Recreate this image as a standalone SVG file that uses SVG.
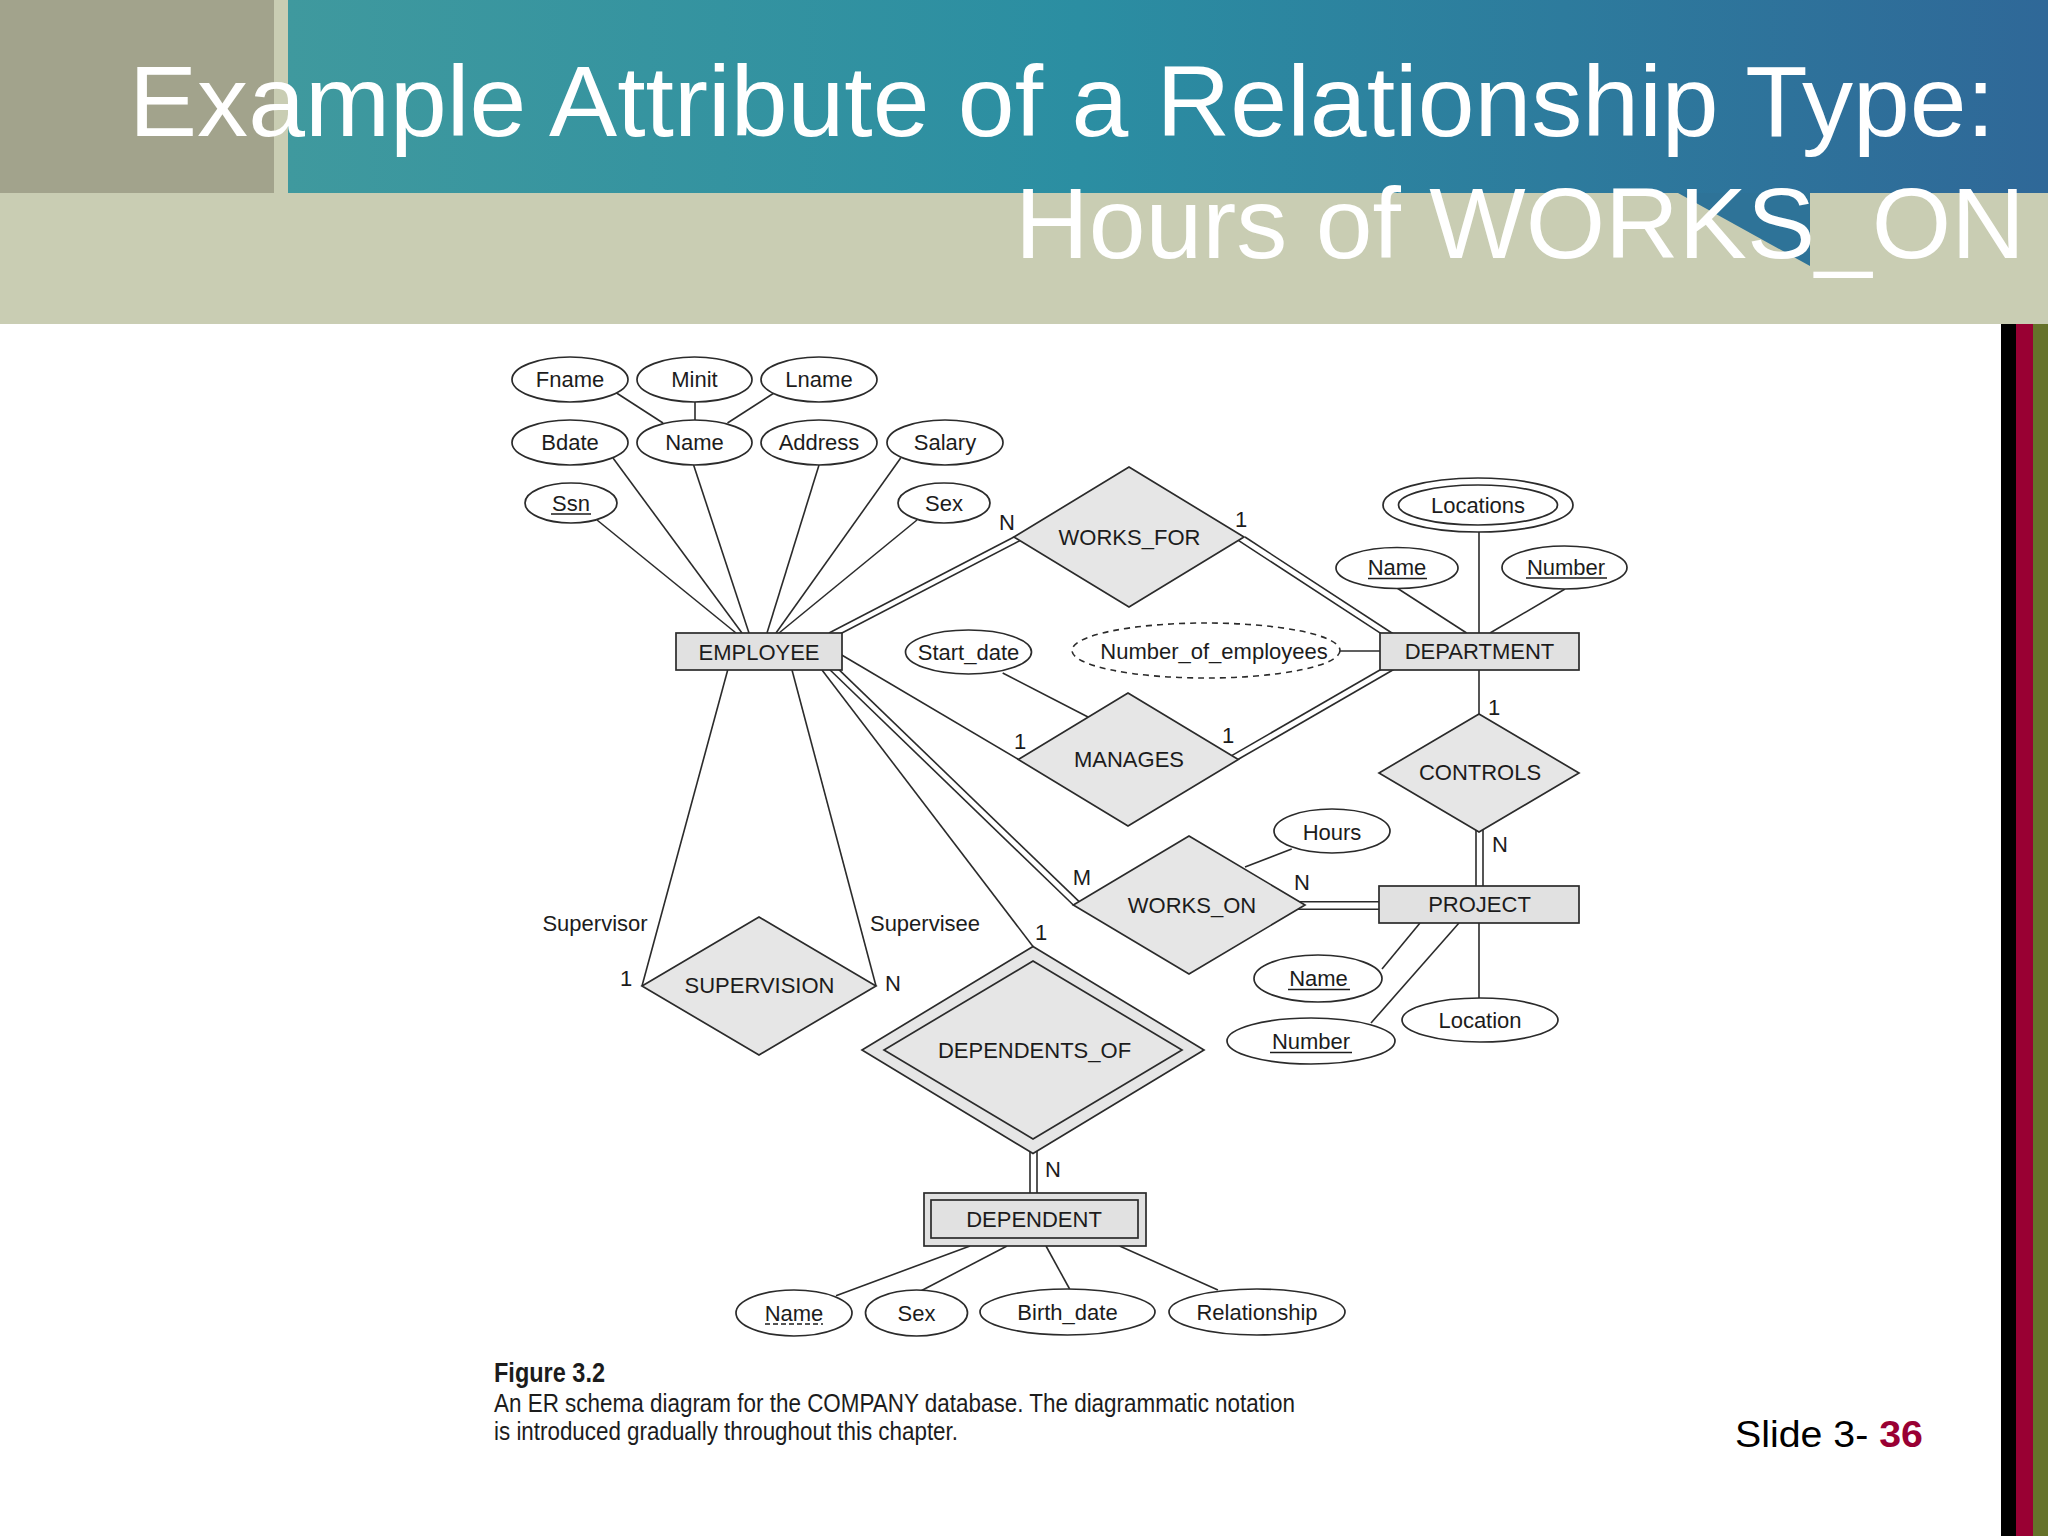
<svg xmlns="http://www.w3.org/2000/svg" width="2048" height="1536" viewBox="0 0 2048 1536">
<defs>
<linearGradient id="teal" x1="0" y1="0" x2="1" y2="0">
<stop offset="0" stop-color="#3f999e"/>
<stop offset="0.45" stop-color="#2b8ea2"/>
<stop offset="1" stop-color="#2f6898"/>
</linearGradient>
<style>
.t{font-family:"Liberation Sans",Arial,sans-serif;fill:#1c1c1c;font-size:22px;text-anchor:middle}
.c{font-family:"Liberation Sans",Arial,sans-serif;fill:#1c1c1c;font-size:22px;text-anchor:middle}
.ent{fill:#e1e1e1;stroke:#2b2b2b;stroke-width:1.7}
.rel{fill:#e6e6e6;stroke:#2b2b2b;stroke-width:1.7}
.att{fill:#ffffff;stroke:#2b2b2b;stroke-width:1.7}
.ln{stroke:#2b2b2b;stroke-width:1.6;fill:none}
.ul{stroke:#1c1c1c;stroke-width:1.5}
.title{font-family:"Liberation Sans",Arial,sans-serif;fill:#ffffff;font-size:101px}
.cap{font-family:"Liberation Sans",Arial,sans-serif;fill:#1c1c1c}
</style>
</defs>
<rect x="0" y="0" width="2048" height="1536" fill="#ffffff"/>
<g id="header">
<rect x="0" y="0" width="2048" height="324" fill="#c9cdb3"/>
<rect x="0" y="0" width="274" height="193" fill="#a2a38c"/>
<rect x="288" y="0" width="1760" height="193" fill="url(#teal)"/>
<polygon points="1678,193 1810,193 1810,266" fill="#2e7398"/>
<text class="title" x="129" y="136" textLength="1866" lengthAdjust="spacingAndGlyphs">Example Attribute of a Relationship Type:</text>
<text class="title" x="1015" y="258" textLength="1010" lengthAdjust="spacingAndGlyphs">Hours of WORKS_ON</text>
</g>
<g id="stripes">
<rect x="2001" y="324" width="15" height="1212" fill="#000000"/>
<rect x="2016" y="324" width="17" height="1212" fill="#990033"/>
<rect x="2033" y="324" width="15" height="1212" fill="#66722a"/>
</g>
<g id="connectors">
<line class="ln" x1="615" y1="392" x2="663" y2="423"/>
<line class="ln" x1="695" y1="402" x2="695" y2="420"/>
<line class="ln" x1="774" y1="393" x2="727.5" y2="423"/>
<line class="ln" x1="613" y1="458" x2="742" y2="633"/>
<line class="ln" x1="693.6" y1="465" x2="749" y2="633"/>
<line class="ln" x1="819" y1="465" x2="767" y2="633"/>
<line class="ln" x1="900.7" y1="458" x2="776" y2="633"/>
<line class="ln" x1="597" y1="520" x2="736" y2="633"/>
<line class="ln" x1="917" y1="520" x2="779" y2="633"/>
<line class="ln" x1="829" y1="633" x2="1014" y2="537"/>
<line class="ln" x1="831.8" y1="638.3" x2="1020" y2="540.6"/>
<line class="ln" x1="1245" y1="537" x2="1398" y2="637"/>
<line class="ln" x1="1236.4" y1="539.1" x2="1388.4" y2="638.4"/>
<line class="ln" x1="1479" y1="532" x2="1479" y2="633"/>
<line class="ln" x1="1397" y1="588" x2="1466.6" y2="633"/>
<line class="ln" x1="1565" y1="589" x2="1490" y2="633"/>
<line class="ln" x1="1340" y1="651" x2="1380" y2="651"/>
<line class="ln" x1="1479" y1="670" x2="1479" y2="714"/>
<line class="ln" x1="1002.7" y1="673" x2="1088" y2="717"/>
<line class="ln" x1="841.7" y1="655" x2="1018.3" y2="759.3"/>
<line class="ln" x1="1238.3" y1="759.3" x2="1398" y2="667"/>
<line class="ln" x1="1227.8" y1="757.9" x2="1392" y2="663"/>
<line class="ln" x1="826" y1="666" x2="1073.3" y2="905"/>
<line class="ln" x1="834.5" y1="665.3" x2="1080.7" y2="903.1"/>
<line class="ln" x1="1291.7" y1="849" x2="1245" y2="867"/>
<line class="ln" x1="1296" y1="901.7" x2="1385" y2="901.7"/>
<line class="ln" x1="1296" y1="909.3" x2="1385" y2="909.3"/>
<line class="ln" x1="1476" y1="824" x2="1476" y2="890"/>
<line class="ln" x1="1483" y1="824" x2="1483" y2="890"/>
<line class="ln" x1="1420" y1="923" x2="1382" y2="969"/>
<line class="ln" x1="1459" y1="923" x2="1371" y2="1023"/>
<line class="ln" x1="1479" y1="923" x2="1479" y2="998"/>
<line class="ln" x1="727.7" y1="670" x2="642" y2="986"/>
<line class="ln" x1="792" y1="670" x2="876" y2="986"/>
<line class="ln" x1="822" y1="670" x2="1033" y2="946.5"/>
<line class="ln" x1="1030" y1="1146" x2="1030" y2="1198"/>
<line class="ln" x1="1037" y1="1146" x2="1037" y2="1198"/>
<line class="ln" x1="970" y1="1246" x2="836" y2="1295.7"/>
<line class="ln" x1="1007" y1="1246" x2="918.8" y2="1292"/>
<line class="ln" x1="1046" y1="1246" x2="1069.6" y2="1289"/>
<line class="ln" x1="1119.6" y1="1246" x2="1217.9" y2="1290"/>
</g>
<g id="employee">
<rect class="ent" x="676" y="633" width="166" height="37"/>
<text class="t" x="759" y="660">EMPLOYEE</text>
</g>
<g id="department">
<rect class="ent" x="1380" y="633" width="199" height="37"/>
<text class="t" x="1479.5" y="659">DEPARTMENT</text>
</g>
<g id="project">
<rect class="ent" x="1379" y="886" width="200" height="37"/>
<text class="t" x="1479.5" y="912">PROJECT</text>
</g>
<g id="dependent">
<rect class="ent" x="924" y="1193" width="222" height="53"/>
<rect x="931" y="1200" width="207" height="38" fill="none" stroke="#2b2b2b" stroke-width="1.7"/>
<text class="t" x="1034" y="1227">DEPENDENT</text>
</g>
<g id="works_for">
<polygon class="rel" points="1129,467 1244,537 1129,607 1014,537"/>
<text class="t" x="1129.5" y="545">WORKS_FOR</text>
</g>
<g id="manages">
<polygon class="rel" points="1128,693 1238.3,759.5 1128,826 1018.3,759.5"/>
<text class="t" x="1129" y="767">MANAGES</text>
</g>
<g id="works_on">
<polygon class="rel" points="1189,836 1305,905 1189,974 1073.3,905"/>
<text class="t" x="1192" y="913">WORKS_ON</text>
</g>
<g id="controls">
<polygon class="rel" points="1479,714 1579,773 1479,832 1379,773"/>
<text class="t" x="1480" y="780">CONTROLS</text>
</g>
<g id="supervision">
<polygon class="rel" points="759,917 876,986 759,1055 642,986"/>
<text class="t" x="759.5" y="993">SUPERVISION</text>
</g>
<g id="dependents_of">
<polygon class="rel" points="1033,946.5 1204,1050 1033,1153.5 862,1050"/>
<polygon points="1033,961 1182,1050 1033,1139 884,1050" fill="none" stroke="#2b2b2b" stroke-width="1.7"/>
<text class="t" x="1034.5" y="1058">DEPENDENTS_OF</text>
</g>
<g id="attr_fname"><ellipse class="att" cx="570" cy="379.5" rx="58" ry="22.5"/><text class="t" x="570" y="387">Fname</text></g>
<g id="attr_minit"><ellipse class="att" cx="694.5" cy="379.5" rx="57.5" ry="22.5"/><text class="t" x="694.5" y="387">Minit</text></g>
<g id="attr_lname"><ellipse class="att" cx="819" cy="379.5" rx="58" ry="22.5"/><text class="t" x="819" y="387">Lname</text></g>
<g id="attr_bdate"><ellipse class="att" cx="570" cy="442.5" rx="58" ry="22.5"/><text class="t" x="570" y="450">Bdate</text></g>
<g id="attr_name"><ellipse class="att" cx="694.5" cy="442.5" rx="57.5" ry="22.5"/><text class="t" x="694.5" y="450">Name</text></g>
<g id="attr_address"><ellipse class="att" cx="819" cy="442.5" rx="58" ry="22.5"/><text class="t" x="819" y="450">Address</text></g>
<g id="attr_salary"><ellipse class="att" cx="945" cy="442.5" rx="58" ry="22.5"/><text class="t" x="945" y="450">Salary</text></g>
<g id="attr_ssn"><ellipse class="att" cx="571" cy="503" rx="46" ry="20"/><text class="t" x="571" y="511">Ssn</text><line class="ul" x1="551" y1="514" x2="591" y2="514"/></g>
<g id="attr_sex"><ellipse class="att" cx="944" cy="503" rx="46" ry="20"/><text class="t" x="944" y="511">Sex</text></g>
<g id="attr_start_date"><ellipse class="att" cx="968.5" cy="652" rx="63" ry="22"/><text class="t" x="968.5" y="660">Start_date</text></g>
<g id="attr_number_of_employees"><ellipse cx="1206" cy="650.5" rx="134" ry="27.5" fill="#ffffff" stroke="#2b2b2b" stroke-width="1.6" stroke-dasharray="6,5"/><text class="t" x="1214" y="659">Number_of_employees</text></g>
<g id="attr_locations"><ellipse class="att" cx="1478" cy="505" rx="95" ry="27"/><ellipse class="att" cx="1478" cy="505" rx="79.5" ry="20"/><text class="t" x="1478" y="513">Locations</text></g>
<g id="attr_dept_name"><ellipse class="att" cx="1397" cy="568" rx="61" ry="20.5"/><text class="t" x="1397" y="575">Name</text><line class="ul" x1="1368" y1="578.5" x2="1427" y2="578.5"/></g>
<g id="attr_dept_number"><ellipse class="att" cx="1564.5" cy="567.5" rx="62.5" ry="21.5"/><text class="t" x="1566" y="575">Number</text><line class="ul" x1="1526" y1="578" x2="1607" y2="578"/></g>
<g id="attr_hours"><ellipse class="att" cx="1332" cy="831" rx="58" ry="22"/><text class="t" x="1332" y="840">Hours</text></g>
<g id="attr_proj_name"><ellipse class="att" cx="1318" cy="978.5" rx="64" ry="23.5"/><text class="t" x="1318.5" y="986">Name</text><line class="ul" x1="1288" y1="989.5" x2="1350" y2="989.5"/></g>
<g id="attr_proj_number"><ellipse class="att" cx="1311" cy="1041" rx="84" ry="23"/><text class="t" x="1311" y="1049">Number</text><line class="ul" x1="1270" y1="1052.5" x2="1352" y2="1052.5"/></g>
<g id="attr_location"><ellipse class="att" cx="1480" cy="1020" rx="78" ry="22"/><text class="t" x="1480" y="1028">Location</text></g>
<g id="attr_dep_name"><ellipse class="att" cx="794" cy="1313" rx="58" ry="23"/><text class="t" x="794" y="1321">Name</text><line class="ul" x1="765" y1="1324" x2="823" y2="1324" stroke-dasharray="5,3"/></g>
<g id="attr_dep_sex"><ellipse class="att" cx="916.5" cy="1313" rx="51" ry="23"/><text class="t" x="916.5" y="1321">Sex</text></g>
<g id="attr_birth_date"><ellipse class="att" cx="1067.5" cy="1312" rx="87.5" ry="23"/><text class="t" x="1067.5" y="1320">Birth_date</text></g>
<g id="attr_relationship"><ellipse class="att" cx="1257" cy="1312" rx="88" ry="23"/><text class="t" x="1257" y="1320">Relationship</text></g>
<g id="labels">
<text class="c" x="1007" y="530">N</text>
<text class="c" x="1241" y="527">1</text>
<text class="c" x="1020" y="749">1</text>
<text class="c" x="1228" y="743">1</text>
<text class="c" x="1082" y="885">M</text>
<text class="c" x="1302" y="890">N</text>
<text class="c" x="1494" y="715">1</text>
<text class="c" x="1500" y="852">N</text>
<text class="c" x="626" y="986">1</text>
<text class="c" x="893" y="991">N</text>
<text class="c" x="1041" y="940">1</text>
<text class="c" x="1053" y="1177">N</text>
<text class="t" x="595" y="931">Supervisor</text>
<text class="t" x="925" y="931">Supervisee</text>
</g>
<g id="caption">
<text class="cap" x="494" y="1382" font-size="27" font-weight="bold" textLength="111" lengthAdjust="spacingAndGlyphs">Figure 3.2</text>
<text class="cap" x="494" y="1412" font-size="25" textLength="801" lengthAdjust="spacingAndGlyphs">An ER schema diagram for the COMPANY database. The diagrammatic notation</text>
<text class="cap" x="494" y="1440" font-size="25" textLength="464" lengthAdjust="spacingAndGlyphs">is introduced gradually throughout this chapter.</text>
</g>
<g id="slide_number">
<text x="1735" y="1447" font-family="'Liberation Sans',Arial,sans-serif" font-size="37" fill="#000000" textLength="188" lengthAdjust="spacingAndGlyphs">Slide 3- <tspan font-weight="bold" fill="#990033">36</tspan></text>
</g>
</svg>
